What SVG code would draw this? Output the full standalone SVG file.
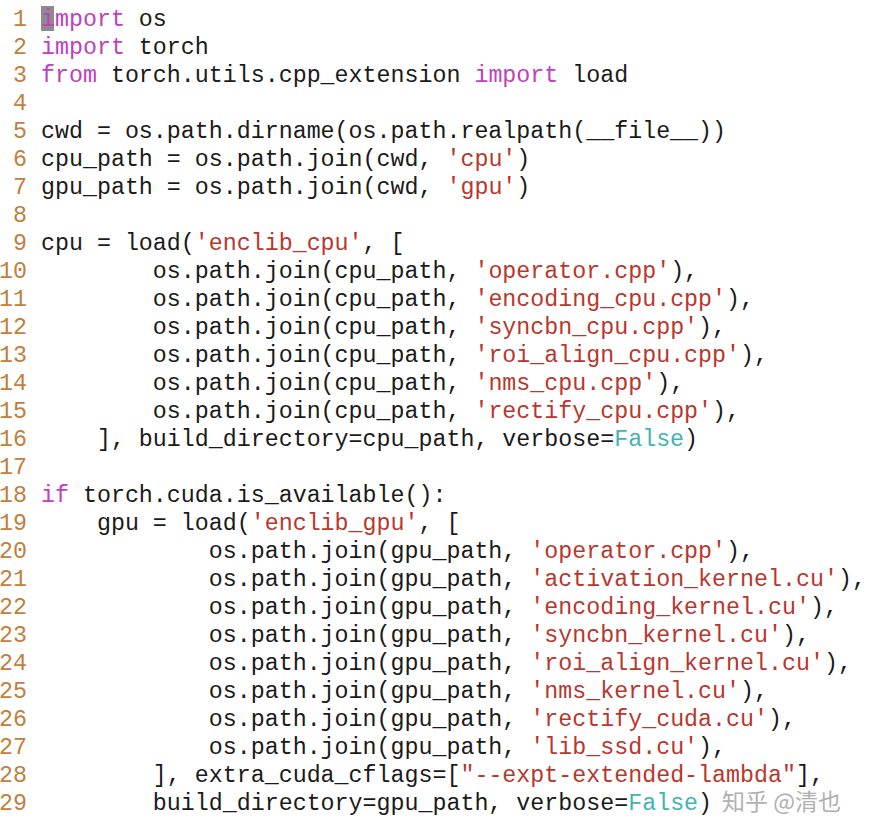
<svg xmlns="http://www.w3.org/2000/svg" width="884" height="840" viewBox="0 0 884 840">
<style>
text{font-family:"Liberation Mono","DejaVu Sans Mono",monospace;font-size:23.3px;fill:#1a1a1a;white-space:pre}
.n{fill:#c08040;text-anchor:end}
.k{fill:#c040c0}
.s{fill:#b8372e}
.b{fill:#3fb4b4}
.w{font-family:"Noto Sans CJK SC",sans-serif;fill:#b0b0b0;font-size:23px}
</style>
<rect width="884" height="840" fill="#fff"/>
<rect x="41" y="6" width="13" height="25" fill="#8c8c8c"/>
<g id="linenos">
<text class="n" x="27" y="26">1</text><text class="n" x="27" y="54">2</text><text class="n" x="27" y="82">3</text><text class="n" x="27" y="110">4</text><text class="n" x="27" y="138">5</text><text class="n" x="27" y="166">6</text><text class="n" x="27" y="194">7</text><text class="n" x="27" y="222">8</text><text class="n" x="27" y="250">9</text><text class="n" x="27" y="278">10</text><text class="n" x="27" y="306">11</text><text class="n" x="27" y="334">12</text><text class="n" x="27" y="362">13</text><text class="n" x="27" y="390">14</text><text class="n" x="27" y="418">15</text><text class="n" x="27" y="446">16</text><text class="n" x="27" y="474">17</text><text class="n" x="27" y="502">18</text><text class="n" x="27" y="530">19</text><text class="n" x="27" y="558">20</text><text class="n" x="27" y="586">21</text><text class="n" x="27" y="614">22</text><text class="n" x="27" y="642">23</text><text class="n" x="27" y="670">24</text><text class="n" x="27" y="698">25</text><text class="n" x="27" y="726">26</text><text class="n" x="27" y="754">27</text><text class="n" x="27" y="782">28</text><text class="n" x="27" y="810">29</text>
</g>
<g id="code">
<text x="41" y="26"><tspan class="k">import</tspan> os</text>
<text x="41" y="54"><tspan class="k">import</tspan> torch</text>
<text x="41" y="82"><tspan class="k">from</tspan> torch.utils.cpp_extension <tspan class="k">import</tspan> load</text>
<text x="41" y="138">cwd = os.path.dirname(os.path.realpath(__file__))</text>
<text x="41" y="166">cpu_path = os.path.join(cwd, <tspan class="s">'cpu'</tspan>)</text>
<text x="41" y="194">gpu_path = os.path.join(cwd, <tspan class="s">'gpu'</tspan>)</text>
<text x="41" y="250">cpu = load(<tspan class="s">'enclib_cpu'</tspan>, [</text>
<text x="41" y="278">        os.path.join(cpu_path, <tspan class="s">'operator.cpp'</tspan>),</text>
<text x="41" y="306">        os.path.join(cpu_path, <tspan class="s">'encoding_cpu.cpp'</tspan>),</text>
<text x="41" y="334">        os.path.join(cpu_path, <tspan class="s">'syncbn_cpu.cpp'</tspan>),</text>
<text x="41" y="362">        os.path.join(cpu_path, <tspan class="s">'roi_align_cpu.cpp'</tspan>),</text>
<text x="41" y="390">        os.path.join(cpu_path, <tspan class="s">'nms_cpu.cpp'</tspan>),</text>
<text x="41" y="418">        os.path.join(cpu_path, <tspan class="s">'rectify_cpu.cpp'</tspan>),</text>
<text x="41" y="446">    ], build_directory=cpu_path, verbose=<tspan class="b">False</tspan>)</text>
<text x="41" y="502"><tspan class="k">if</tspan> torch.cuda.is_available():</text>
<text x="41" y="530">    gpu = load(<tspan class="s">'enclib_gpu'</tspan>, [</text>
<text x="41" y="558">            os.path.join(gpu_path, <tspan class="s">'operator.cpp'</tspan>),</text>
<text x="41" y="586">            os.path.join(gpu_path, <tspan class="s">'activation_kernel.cu'</tspan>),</text>
<text x="41" y="614">            os.path.join(gpu_path, <tspan class="s">'encoding_kernel.cu'</tspan>),</text>
<text x="41" y="642">            os.path.join(gpu_path, <tspan class="s">'syncbn_kernel.cu'</tspan>),</text>
<text x="41" y="670">            os.path.join(gpu_path, <tspan class="s">'roi_align_kernel.cu'</tspan>),</text>
<text x="41" y="698">            os.path.join(gpu_path, <tspan class="s">'nms_kernel.cu'</tspan>),</text>
<text x="41" y="726">            os.path.join(gpu_path, <tspan class="s">'rectify_cuda.cu'</tspan>),</text>
<text x="41" y="754">            os.path.join(gpu_path, <tspan class="s">'lib_ssd.cu'</tspan>),</text>
<text x="41" y="782">        ], extra_cuda_cflags=[<tspan class="s">"--expt-extended-lambda"</tspan>],</text>
<text x="41" y="810">        build_directory=gpu_path, verbose=<tspan class="b">False</tspan>)</text>
</g>
<text class="w" x="722" y="810">知乎 @清也</text>
</svg>
